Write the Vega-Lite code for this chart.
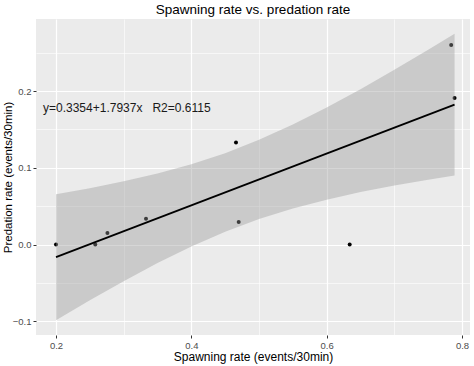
{
  "$schema": "https://vega.github.io/schema/vega-lite/v6.json",
  "width": 434,
  "height": 316,
  "autosize": "none",
  "padding": {"left": 36, "top": 19, "right": 4, "bottom": 31},
  "background": "white",
  "config": {
    "font": "Liberation Sans",
    "view": {"fill": "#EBEBEB", "stroke": null},
    "axis": {
      "domain": false,
      "gridColor": "white",
      "tickColor": "#333333",
      "tickSize": 3,
      "labelColor": "#4D4D4D",
      "labelFontSize": 9.5,
      "titleFontSize": 12,
      "titleFontWeight": "normal",
      "titleColor": "black"
    },
    "title": {"fontSize": 13.5, "fontWeight": "normal", "color": "black"}
  },
  "title": {"text": "Spawning rate vs. predation rate", "anchor": "middle", "offset": 3},
  "datasets": {
    "points": [
      {"spawn": 0.2, "pred": 0.0},
      {"spawn": 0.258, "pred": 0.0},
      {"spawn": 0.276, "pred": 0.015},
      {"spawn": 0.333, "pred": 0.0335},
      {"spawn": 0.466, "pred": 0.133},
      {"spawn": 0.47, "pred": 0.0295},
      {"spawn": 0.634, "pred": 0.0},
      {"spawn": 0.784, "pred": 0.26},
      {"spawn": 0.789, "pred": 0.191}
    ],
    "band": [
      {"spawn": 0.2, "lo": -0.0986, "hi": 0.0656},
      {"spawn": 0.25, "lo": -0.0727, "hi": 0.0735},
      {"spawn": 0.3, "lo": -0.0477, "hi": 0.0823},
      {"spawn": 0.35, "lo": -0.0242, "hi": 0.0924},
      {"spawn": 0.4, "lo": -0.0025, "hi": 0.1045},
      {"spawn": 0.45, "lo": 0.0167, "hi": 0.1191},
      {"spawn": 0.5, "lo": 0.0332, "hi": 0.1364},
      {"spawn": 0.55, "lo": 0.0469, "hi": 0.1563},
      {"spawn": 0.6, "lo": 0.0585, "hi": 0.1785},
      {"spawn": 0.65, "lo": 0.0683, "hi": 0.2025},
      {"spawn": 0.7, "lo": 0.0768, "hi": 0.2278},
      {"spawn": 0.75, "lo": 0.0844, "hi": 0.2538},
      {"spawn": 0.789, "lo": 0.0899, "hi": 0.2747}
    ],
    "fit": [
      {"spawn": 0.2, "pred": -0.0165},
      {"spawn": 0.789, "pred": 0.1823}
    ],
    "label": [
      {"spawn": 0.1808, "pred": 0.178, "text": "y=0.3354+1.7937x\u00a0\u00a0\u00a0R2=0.6115"}
    ]
  },
  "encoding": {
    "x": {
      "field": "spawn",
      "type": "quantitative",
      "title": "Spawning rate (events/30min)",
      "scale": {"domain": [0.17045, 0.8118], "nice": false, "zero": false},
      "axis": {
        "values": [0.2, 0.3, 0.4, 0.5, 0.6, 0.7, 0.8],
        "labelExpr": "indexof([0.3, 0.5, 0.7], datum.value) >= 0 ? '' : format(datum.value, '.1f')",
        "gridWidth": {"condition": {"test": "indexof([0.3, 0.5, 0.7], datum.value) >= 0", "value": 0.6}, "value": 1.2},
        "tickOpacity": {"condition": {"test": "indexof([0.3, 0.5, 0.7], datum.value) >= 0", "value": 0}, "value": 1},
        "labelPadding": 2,
        "titlePadding": 2
      }
    },
    "y": {
      "field": "pred",
      "type": "quantitative",
      "title": "Predation rate (events/30min)",
      "scale": {"domain": [-0.1179, 0.2939], "nice": false, "zero": false},
      "axis": {
        "values": [-0.1, -0.05, 0, 0.05, 0.1, 0.15, 0.2, 0.25],
        "labelExpr": "indexof([-0.05, 0.05, 0.15, 0.25], datum.value) >= 0 ? '' : format(datum.value, '.1f')",
        "gridWidth": {"condition": {"test": "indexof([-0.05, 0.05, 0.15, 0.25], datum.value) >= 0", "value": 0.6}, "value": 1.2},
        "tickOpacity": {"condition": {"test": "indexof([-0.05, 0.05, 0.15, 0.25], datum.value) >= 0", "value": 0}, "value": 1},
        "labelPadding": 2,
        "titleX": -28,
        "titleY": 158,
        "titleBaseline": "middle",
        "titleFontSize": 11.5
      }
    }
  },
  "layer": [
    {
      "data": {"name": "points"},
      "mark": {"type": "circle", "color": "black", "opacity": 1, "size": 16}
    },
    {
      "data": {"name": "band"},
      "mark": {"type": "area", "color": "#999999", "opacity": 0.4},
      "encoding": {
        "y": {"field": "lo", "type": "quantitative"},
        "y2": {"field": "hi"}
      }
    },
    {
      "data": {"name": "fit"},
      "mark": {"type": "line", "color": "black", "strokeWidth": 1.8},
      "encoding": {}
    },
    {
      "data": {"name": "label"},
      "mark": {"type": "text", "align": "left", "baseline": "middle", "fontSize": 12, "color": "#1A1A1A"},
      "encoding": {"text": {"field": "text"}}
    }
  ]
}
